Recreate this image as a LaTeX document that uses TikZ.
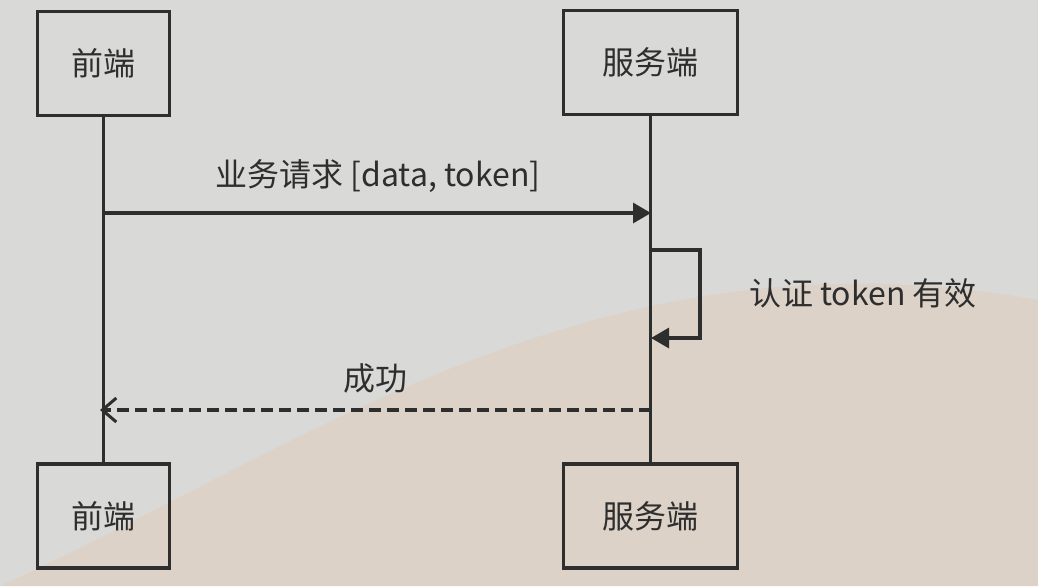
\documentclass[tikz,border=0pt]{standalone}
\usepackage{fontspec}
\setmainfont{Noto Sans CJK SC}
\usetikzlibrary{arrows.meta}
\definecolor{ln}{HTML}{2E2E2E}
\definecolor{bg}{HTML}{D9D9D7}
\tikzset{
  actor/.style={draw=ln,line width=1.7pt,minimum height=52pt,font=\fontsize{16}{18}\selectfont,text=ln},
  life/.style={ln,line width=1.6pt},
  msg/.style={ln,line width=1.6pt,-{Triangle[length=9pt,width=10pt]}},
  ret/.style={ln,line width=1.6pt,dash pattern=on 6pt off 3pt,-{Straight Barb[length=7pt,width=12pt,line width=1.5pt]}},
  lbl/.style={font=\fontsize{16}{18}\selectfont,text=ln}
}
\begin{document}
\begin{tikzpicture}[x=0.5pt,y=-0.5pt]
\fill[bg] (0,0) rectangle (1038,586);
\fill[orange!12!bg,opacity=0.6] (0,586) .. controls (300,450) and (600,220) .. (1038,300) -- (1038,586) -- cycle;
\useasboundingbox (0,0) rectangle (1038,586);
\node[actor,minimum width=66pt] (f1) at (103.5,63.5) {前端};
\node[actor,minimum width=87pt] (s1) at (650.5,62.5) {服务端};
\node[actor,minimum width=66pt] (f2) at (103.5,516) {前端};
\node[actor,minimum width=87pt] (s2) at (650.5,516) {服务端};
\draw[life] (f1.south) -- (f2.north);
\draw[life] (s1.south) -- (s2.north);
\coordinate (a1) at (105,213); \coordinate (b1) at (651,213);
\draw[msg] (a1) -- (b1) node[lbl,midway,above=6pt] {业务请求 [data, token]};
\coordinate (c1) at (651,250); \coordinate (c2) at (700,250);
\coordinate (c3) at (700,338); \coordinate (c4) at (651,338);
\draw[msg] (c1) -- (c2) -- (c3) -- (c4);
\node[lbl,anchor=west] (t) at (742,293) {认证 token 有效};
\coordinate (d1) at (651,410); \coordinate (d2) at (100,410);
\draw[ret] (d1) -- (d2);
\node[lbl] (ok) at (375,378) {成功};
\end{tikzpicture}
\end{document}
